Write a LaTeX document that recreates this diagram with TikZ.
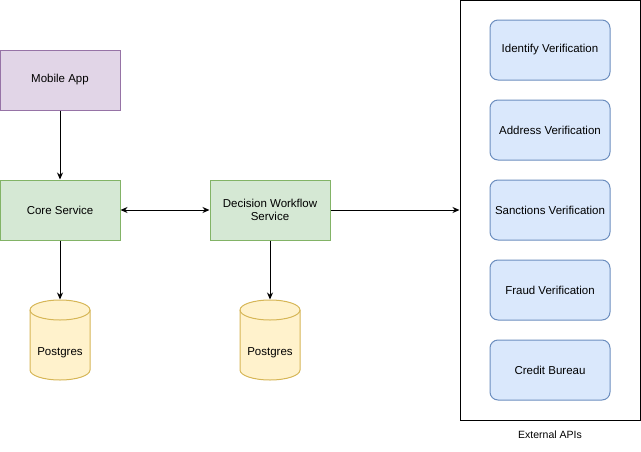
\documentclass[tikz,border=0pt]{standalone}
\usepackage{fontspec}
\setmainfont{Liberation Sans}
\usetikzlibrary{arrows.meta}
\definecolor{pf}{HTML}{E1D5E7}\definecolor{ps}{HTML}{9673A6}
\definecolor{gf}{HTML}{D5E8D4}\definecolor{gs}{HTML}{82B366}
\definecolor{yf}{HTML}{FFF2CC}\definecolor{ys}{HTML}{D6B656}
\definecolor{bf}{HTML}{DAE8FC}\definecolor{bs}{HTML}{6C8EBF}
\begin{document}
\begin{tikzpicture}[x=1pt,y=-1pt,line width=1pt,
  font=\fontsize{11.5}{13}\selectfont,
  box/.style={draw,minimum width=120pt,minimum height=60pt,inner sep=2pt,align=center},
  api/.style={box,fill=bf,draw=bs,rounded corners=8pt},
  arr/.style={-{Stealth[length=7pt,width=6pt]}},
  ghost/.style={minimum width=60pt,minimum height=80pt,inner sep=0pt}]
\useasboundingbox (0,0) rectangle (641,451);
\node[box,fill=pf,draw=ps] (mob) at (60,80) {Mobile App};
\node[box,fill=gf,draw=gs] (core) at (60,210) {Core Service};
\node[box,fill=gf,draw=gs] (dec) at (270,210) {Decision Workflow\\Service};
\node[draw,minimum width=180pt,minimum height=420pt,inner sep=0pt] (ext) at (550,210) {};
\node[font=\fontsize{10.5}{12}\selectfont] (extl) at (550,435) {External APIs};
\node[api] (a1) at (550,50) {Identify Verification};
\node[api] (a2) at (550,130) {Address Verification};
\node[api] (a3) at (550,210) {Sanctions Verification};
\node[api] (a4) at (550,290) {Fraud Verification};
\node[api] (a5) at (550,370) {Credit Bureau};
\foreach \n/\x in {pg1/60,pg2/270}{
  \node[ghost] (\n) at (\x,340) {};
  \filldraw[fill=yf,draw=ys] (\x-30,310) -- (\x-30,370) arc[start angle=180,end angle=360,x radius=30,y radius=-10] -- (\x+30,310) arc[start angle=0,end angle=180,x radius=30,y radius=-10] -- cycle;
  \draw[ys] (\x-30,310) arc[start angle=180,end angle=360,x radius=30,y radius=-10];
  \node at (\x,353) {Postgres};
}
\draw[arr] (mob) -- (core);
\draw[arr,{Stealth[length=7pt,width=6pt]}-{Stealth[length=7pt,width=6pt]}] (core) -- (dec);
\draw[arr] (dec) -- (ext.west |- dec);
\draw[arr] (core) -- (pg1.north);
\draw[arr] (dec) -- (pg2.north);
\end{tikzpicture}
\end{document}
